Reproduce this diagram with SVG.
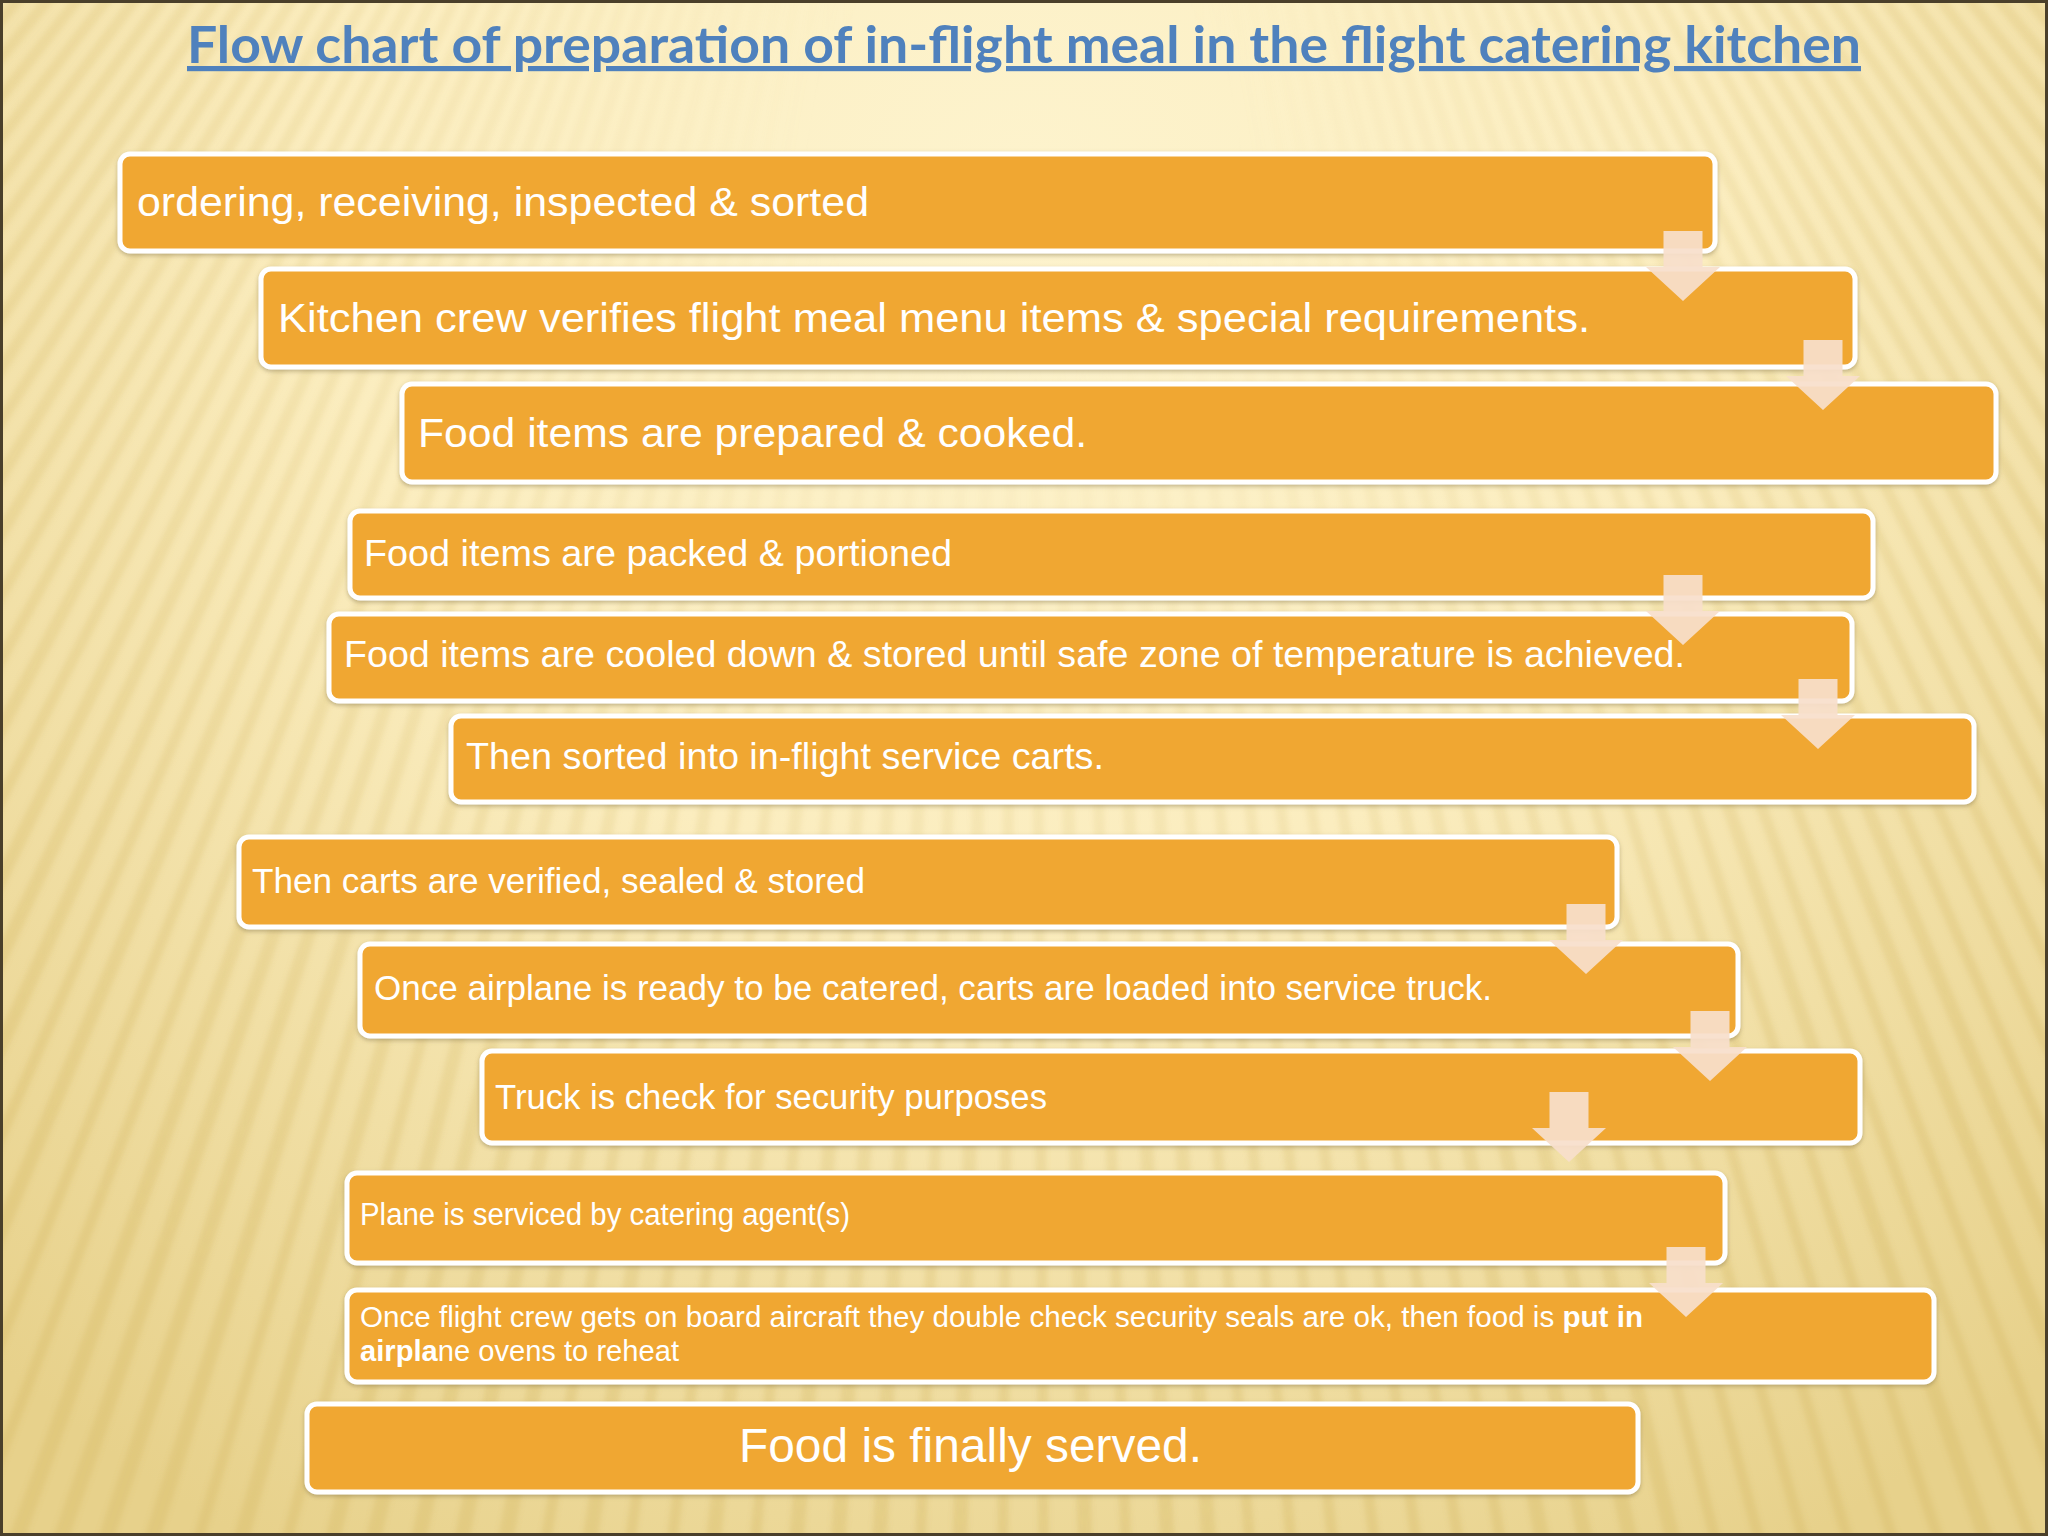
<svg xmlns="http://www.w3.org/2000/svg" width="2048" height="1536" viewBox="0 0 2048 1536">
<defs>
<radialGradient id="bg" cx="1024" cy="200" r="1550" gradientUnits="userSpaceOnUse">
<stop offset="0" stop-color="#fdf3cd"/>
<stop offset="0.45" stop-color="#fbedbf"/>
<stop offset="1" stop-color="#e7d18b"/>
</radialGradient>
<radialGradient id="mg" cx="1024" cy="150" r="1400" gradientUnits="userSpaceOnUse">
<stop offset="0.15" stop-color="#000"/>
<stop offset="0.55" stop-color="#888"/>
<stop offset="1" stop-color="#fff"/>
</radialGradient>
<mask id="m" maskUnits="userSpaceOnUse" x="0" y="0" width="2048" height="1536"><rect width="2048" height="1536" fill="url(#mg)"/></mask>
<filter id="bl" x="0" y="0" width="2048" height="1536" filterUnits="userSpaceOnUse"><feGaussianBlur stdDeviation="2.5"/></filter>
<filter id="sh" x="-5%" y="-20%" width="110%" height="150%"><feDropShadow dx="0" dy="2" stdDeviation="2" flood-color="#7a6a40" flood-opacity="0.45"/></filter>
<path id="arr" d="M-19.5 0H19.5V36H37L0 70L-37 36H-19.5Z"/>
</defs>
<style>
.box{fill:#f0a733;stroke:#fff;stroke-width:5;filter:url(#sh)}
.t{font-family:"Liberation Sans",Arial,sans-serif;fill:#fff}
.arrow{fill:#f7dfcb;fill-opacity:0.93}
</style>
<rect width="2048" height="1536" fill="url(#bg)"/>
<g mask="url(#m)">
<g filter="url(#bl)">
<circle cx="1024" cy="-1200" r="1600" fill="none" stroke="#d2b765" stroke-width="3200" stroke-dasharray="11 13" opacity="0.32"/>
</g>
</g>
<rect x="1.5" y="1.5" width="2045" height="1533" fill="none" stroke="#4a3f2a" stroke-width="3"/>
<text x="187" y="63" font-family="Lato, 'Liberation Sans', sans-serif" font-weight="bold" font-size="52" fill="#4f81bd" text-decoration="underline" textLength="1674" lengthAdjust="spacingAndGlyphs">Flow chart of preparation of in-flight meal in the flight catering kitchen</text>

<g id="n1"><rect class="box" x="120" y="154" width="1595" height="97" rx="10"/><text class="t" x="137" y="216" font-size="40" textLength="732" lengthAdjust="spacingAndGlyphs">ordering, receiving, inspected &amp; sorted</text></g>
<g id="n2"><rect class="box" x="261" y="269" width="1594" height="98" rx="10"/><text class="t" x="278" y="332" font-size="40" textLength="1312" lengthAdjust="spacingAndGlyphs">Kitchen crew verifies flight meal menu items &amp; special requirements.</text></g>
<g id="n3"><rect class="box" x="402" y="384" width="1594" height="98" rx="10"/><text class="t" x="418" y="447" font-size="40" textLength="669" lengthAdjust="spacingAndGlyphs">Food items are prepared &amp; cooked.</text></g>
<g id="n4"><rect class="box" x="350" y="511" width="1523" height="87" rx="10"/><text class="t" x="364" y="566" font-size="37" textLength="588" lengthAdjust="spacingAndGlyphs">Food items are packed &amp; portioned</text></g>
<g id="n5"><rect class="box" x="329" y="614" width="1523" height="87" rx="10"/><text class="t" x="344" y="667" font-size="37" textLength="1341" lengthAdjust="spacingAndGlyphs">Food items are cooled down &amp; stored until safe zone of temperature is achieved.</text></g>
<g id="n6"><rect class="box" x="451" y="716" width="1523" height="86" rx="10"/><text class="t" x="466" y="769" font-size="37" textLength="638" lengthAdjust="spacingAndGlyphs">Then sorted into in-flight service carts.</text></g>
<g id="n7"><rect class="box" x="239" y="837" width="1378" height="90" rx="10"/><text class="t" x="252" y="893" font-size="35" textLength="613" lengthAdjust="spacingAndGlyphs">Then carts are verified, sealed &amp; stored</text></g>
<g id="n8"><rect class="box" x="360" y="944" width="1378" height="92" rx="10"/><text class="t" x="374" y="1000" font-size="35" textLength="1118" lengthAdjust="spacingAndGlyphs">Once airplane is ready to be catered, carts are loaded into service truck.</text></g>
<g id="n9"><rect class="box" x="482" y="1051" width="1378" height="92" rx="10"/><text class="t" x="495" y="1109" font-size="35" textLength="552" lengthAdjust="spacingAndGlyphs">Truck is check for security purposes</text></g>
<g id="n10"><rect class="box" x="347" y="1173" width="1378" height="90" rx="10"/><text class="t" x="360" y="1225" font-size="31" textLength="490" lengthAdjust="spacingAndGlyphs">Plane is serviced by catering agent(s)</text></g>
<g id="n11"><rect class="box" x="347" y="1290" width="1587" height="92" rx="10"/><text class="t" x="360" y="1327" font-size="29" textLength="1283" lengthAdjust="spacingAndGlyphs">Once flight crew gets on board aircraft they double check security seals are ok, then food is <tspan font-weight="bold">put in</tspan></text><text class="t" x="360" y="1361" font-size="29" textLength="319" lengthAdjust="spacingAndGlyphs"><tspan font-weight="bold">airpla</tspan>ne ovens to reheat</text></g>
<g id="n12"><rect class="box" x="307" y="1404" width="1331" height="88" rx="10"/><text class="t" x="739" y="1462" font-size="48" textLength="463" lengthAdjust="spacingAndGlyphs">Food is finally served.</text></g>

<g id="connectors" class="arrow">
<use href="#arr" x="1683" y="231"/>
<use href="#arr" x="1823" y="340"/>
<use href="#arr" x="1683" y="575"/>
<use href="#arr" x="1818" y="679"/>
<use href="#arr" x="1586" y="904"/>
<use href="#arr" x="1710" y="1011"/>
<use href="#arr" x="1569" y="1092"/>
<use href="#arr" x="1686" y="1247"/>
</g>
</svg>
